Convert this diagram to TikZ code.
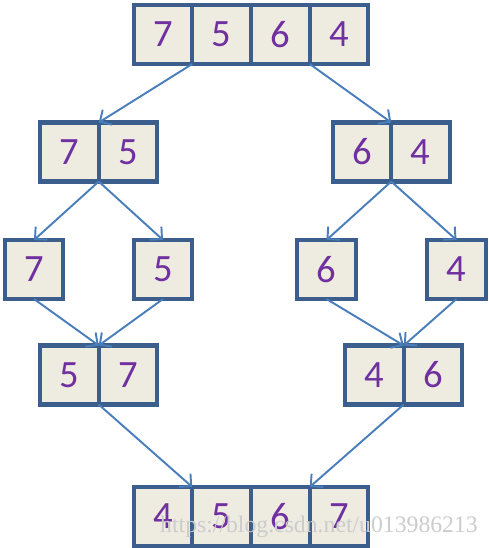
\documentclass[tikz,border=0pt]{standalone}
\usepackage{fontspec}
\setmainfont{Carlito}
\newfontfamily\markfont{Liberation Serif}
\usetikzlibrary{arrows.meta}
\definecolor{cellblue}{HTML}{3B5E8C}
\definecolor{cellfill}{HTML}{EEEBE1}
\definecolor{digitpurple}{HTML}{7030A0}
\definecolor{arrowblue}{HTML}{4A7EBB}

\tikzset{
  cell/.style={draw=cellblue,fill=cellfill,line width=2.5pt,inner sep=0pt,outer sep=0pt,
    minimum width=1.17cm,minimum height=1.18cm,text=digitpurple,
    font=\fontsize{22}{24}\selectfont},
  merge/.style={draw=arrowblue,line width=1.1pt,-{Straight Barb[length=5pt,width=10pt]}}
}

\begin{document}
\begin{tikzpicture}[x=0.02cm,y=-0.02cm]
  \useasboundingbox (0,0) rectangle (489,548);
  \foreach \n/\x/\y/\v in {
    t1/163/34.5/7, t2/221.5/34.5/5, t3/280.5/34.5/6, t4/339/34.5/4,
    a1/69.5/152/7, a2/128/152/5, b1/362/152/6, b2/420.5/152/4,
    c/34/269.5/7, d/163/269.5/5, e/326.5/269.5/6, f/456.5/269.5/4,
    g1/69.5/375/5, g2/128/375/7, h1/374.5/375/4, h2/433/375/6,
    r1/163/516.5/4, r2/221.5/516.5/5, r3/280.5/516.5/6, r4/339/516.5/7} {
    \node[cell] (\n) at (\x,\y) {\v};
  }
  % splitting
  \draw[merge] (t1.south east) -- (a1.north east);
  \draw[merge] (t4.south west) -- (b1.north east);
  \draw[merge] (a1.south east) -- (c.north);
  \draw[merge] (a1.south east) -- (d.north);
  \draw[merge] (b1.south east) -- (e.north);
  \draw[merge] (b1.south east) -- (f.north);
  % merging
  \draw[merge] (c.south) -- (g1.north east);
  \draw[merge] (d.south) -- (g1.north east);
  \draw[merge] (e.south) -- (h1.north east);
  \draw[merge] (f.south) -- (h1.north east);
  \draw[merge] (g1.south east) -- (r1.north east);
  \draw[merge] (h1.south east) -- (r4.north west);
  \node[text=black!20,font=\markfont\fontsize{13.5}{15}\selectfont] (wmark) at (319,527)
    {https://blog.csdn.net/u013986213};
\end{tikzpicture}
\end{document}
